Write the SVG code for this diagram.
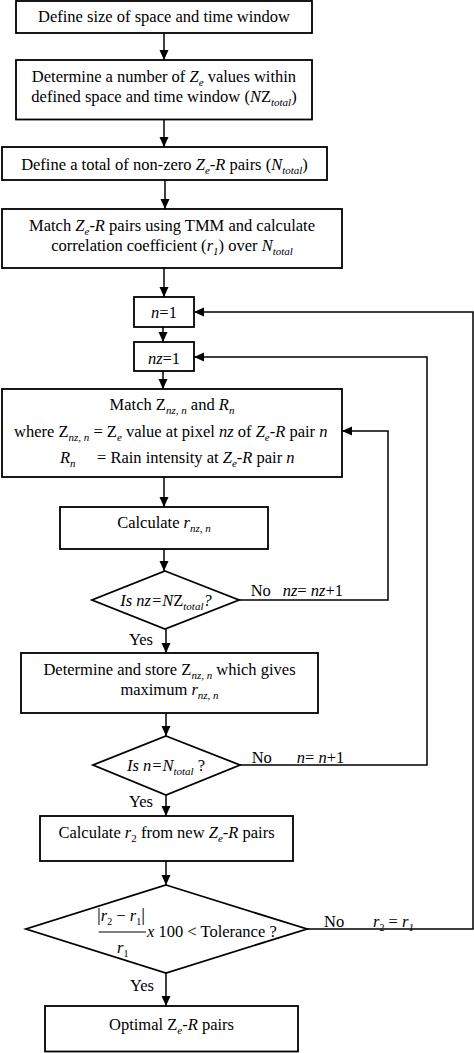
<svg xmlns="http://www.w3.org/2000/svg" width="474" height="1053" viewBox="0 0 474 1053">
<style>
.box{fill:#fff;stroke:#000;stroke-width:1.8}
.ln{fill:none;stroke:#000;stroke-width:1.5}
text{font-family:"Liberation Serif","Times New Roman",serif;font-size:16.5px;fill:#000}
.c{text-anchor:middle}
.i{font-style:italic}
.s{font-size:11px;font-style:italic}
</style>
<defs>
<marker id="ah" viewBox="0 0 10 10" refX="10" refY="5" markerWidth="10" markerHeight="10" markerUnits="userSpaceOnUse" orient="auto">
<path d="M0,0.5 L10,5 L0,9.5 Z" fill="#000"/>
</marker>
</defs>
<rect width="474" height="1053" fill="#fff"/>

<g id="connectors">
<line class="ln" x1="164" y1="33" x2="164" y2="60" marker-end="url(#ah)"/>
<line class="ln" x1="164" y1="119" x2="164" y2="147" marker-end="url(#ah)"/>
<line class="ln" x1="165" y1="180" x2="165" y2="209" marker-end="url(#ah)"/>
<line class="ln" x1="164" y1="268" x2="164" y2="297" marker-end="url(#ah)"/>
<line class="ln" x1="163" y1="327" x2="163" y2="342" marker-end="url(#ah)"/>
<line class="ln" x1="163" y1="371" x2="163" y2="389" marker-end="url(#ah)"/>
<line class="ln" x1="164" y1="477" x2="164" y2="507" marker-end="url(#ah)"/>
<line class="ln" x1="164" y1="549" x2="164" y2="571" marker-end="url(#ah)"/>
<line class="ln" x1="166" y1="629" x2="166" y2="653" marker-end="url(#ah)"/>
<line class="ln" x1="166" y1="713" x2="166" y2="736" marker-end="url(#ah)"/>
<line class="ln" x1="166" y1="795" x2="166" y2="816" marker-end="url(#ah)"/>
<line class="ln" x1="166" y1="861" x2="166" y2="885" marker-end="url(#ah)"/>
<line class="ln" x1="166" y1="973" x2="166" y2="1006" marker-end="url(#ah)"/>
<polyline class="ln" points="239,600 388,600 388,431 342,431" marker-end="url(#ah)"/>
<polyline class="ln" points="240,765 427,765 427,357 194,357" marker-end="url(#ah)"/>
<polyline class="ln" points="307,929 473,929 473,312 194,312" marker-end="url(#ah)"/>
<text x="250.7" y="596">No</text>
<text x="282.7" y="596"><tspan class="i">nz</tspan>= <tspan class="i">nz</tspan>+1</text>
<text x="251.7" y="763">No</text>
<text x="296.7" y="763"><tspan class="i">n</tspan>= <tspan class="i">n</tspan>+1</text>
<text x="324" y="927">No</text>
<text x="373" y="927" font-size="14.5"><tspan class="i">r</tspan><tspan dy="3.5" font-size="10">2</tspan><tspan dy="-3.5"> = </tspan><tspan class="i">r</tspan><tspan class="s" dy="3.5" font-size="10">1</tspan></text>
<text x="129" y="645">Yes</text>
<text x="129" y="807">Yes</text>
<text x="130" y="991">Yes</text>
</g>

<g id="n1">
<rect class="box" x="16" y="1" width="296" height="32"/>
<text class="c" x="164" y="22">Define size of space and time window</text>
</g>

<g id="n2">
<rect class="box" x="16" y="60" width="296" height="59.5"/>
<text class="c" x="164" y="82">Determine a number of <tspan class="i">Z</tspan><tspan class="s" dy="4">e</tspan><tspan dy="-4"> values within</tspan></text>
<text class="c" x="164" y="102">defined space and time window (<tspan class="i">N</tspan>Z<tspan class="s" dy="4">total</tspan><tspan dy="-4">)</tspan></text>
</g>

<g id="n3">
<rect class="box" x="2" y="147" width="325" height="33"/>
<text class="c" x="164.5" y="170">Define a total of non-zero <tspan class="i">Z</tspan><tspan class="s" dy="4">e</tspan><tspan class="i" dy="-4">-R</tspan> pairs (<tspan class="i">N</tspan><tspan class="s" dy="4">total</tspan><tspan dy="-4">)</tspan></text>
</g>

<g id="n4">
<rect class="box" x="2" y="209" width="340" height="59"/>
<text class="c" x="172" y="231">Match <tspan class="i">Z</tspan><tspan class="s" dy="4">e</tspan><tspan class="i" dy="-4">-R</tspan> pairs using TMM and calculate</text>
<text class="c" x="172" y="251">correlation coefficient (<tspan class="i">r</tspan><tspan class="s" dy="4">1</tspan><tspan dy="-4">) over </tspan><tspan class="i">N</tspan><tspan class="s" dy="4">total</tspan></text>
</g>

<g id="n5">
<rect class="box" x="134" y="297" width="60" height="30"/>
<text class="c" x="164" y="318"><tspan class="i">n</tspan>=1</text>
</g>

<g id="n6">
<rect class="box" x="134" y="342" width="60" height="29"/>
<text class="c" x="164" y="364"><tspan class="i">nz</tspan>=1</text>
</g>

<g id="n7">
<rect class="box" x="2" y="389" width="340" height="88"/>
<text class="c" x="172" y="410">Match Z<tspan class="s" dy="4">nz, n</tspan><tspan dy="-4"> and </tspan><tspan class="i">R</tspan><tspan class="s" dy="4">n</tspan></text>
<text x="14" y="437">where Z<tspan class="s" dy="4">nz, n</tspan><tspan dy="-4"> = Z</tspan><tspan class="s" dy="4">e</tspan><tspan dy="-4"> value at pixel </tspan><tspan class="i">nz</tspan> of <tspan class="i">Z</tspan><tspan class="s" dy="4">e</tspan><tspan class="i" dy="-4">-R</tspan> pair <tspan class="i">n</tspan></text>
<text x="60" y="463"><tspan class="i">R</tspan><tspan class="s" dy="4">n</tspan></text>
<text x="97" y="463">= Rain intensity at <tspan class="i">Z</tspan><tspan class="s" dy="4">e</tspan><tspan class="i" dy="-4">-R</tspan> pair <tspan class="i">n</tspan></text>
</g>

<g id="n8">
<rect class="box" x="60" y="507" width="208" height="42"/>
<text class="c" x="164" y="528">Calculate  <tspan class="i">r</tspan><tspan class="s" dy="4">nz, n</tspan></text>
</g>

<g id="n9">
<polygon class="box" points="165,571 239,600 165,629 92,600"/>
<text class="c" x="166" y="606"><tspan class="i">Is nz=N</tspan>Z<tspan class="s" dy="4">total</tspan><tspan class="i" dy="-4">?</tspan></text>
</g>

<g id="n10">
<rect class="box" x="21" y="653" width="297" height="60"/>
<text class="c" x="169.5" y="675">Determine and store Z<tspan class="s" dy="4">nz, n</tspan><tspan dy="-4"> which gives</tspan></text>
<text class="c" x="169.5" y="695">maximum <tspan class="i">r</tspan><tspan class="s" dy="4">nz, n</tspan></text>
</g>

<g id="n11">
<polygon class="box" points="166,736 240,765 166,795 93,765"/>
<text class="c" x="166" y="771"><tspan class="i">Is n=N</tspan><tspan class="s" dy="4">total</tspan><tspan dy="-4"> ?</tspan></text>
</g>

<g id="n12">
<rect class="box" x="40" y="816" width="253" height="45"/>
<text class="c" x="166.5" y="838">Calculate <tspan class="i">r</tspan><tspan dy="4" font-size="11">2</tspan><tspan dy="-4"> from new </tspan><tspan class="i">Z</tspan><tspan class="s" dy="4">e</tspan><tspan class="i" dy="-4">-R</tspan> pairs</text>
</g>

<g id="n13">
<polygon class="box" points="166,885 307,929 166,973 26,929"/>
<text class="c" x="121" y="921" font-size="15"><tspan font-size="19">|</tspan><tspan class="i">r</tspan><tspan dy="3.5" font-size="10">2</tspan><tspan dy="-3.5"> − </tspan><tspan class="i">r</tspan><tspan dy="3.5" font-size="10">1</tspan><tspan dy="-3.5" font-size="19">|</tspan></text>
<line x1="98.7" y1="932" x2="146" y2="932" stroke="#000" stroke-width="1"/>
<text x="147" y="937" font-size="15.5"><tspan class="i">x</tspan> 100 &lt; Tolerance ?</text>
<text x="117" y="953" font-size="15"><tspan class="i">r</tspan><tspan dy="3.5" font-size="10">1</tspan></text>
</g>

<g id="n14">
<rect class="box" x="45" y="1006" width="253" height="45.5"/>
<text class="c" x="171.5" y="1030">Optimal Z<tspan class="s" dy="4">e</tspan><tspan class="i" dy="-4">-R</tspan> pairs</text>
</g>
</svg>
